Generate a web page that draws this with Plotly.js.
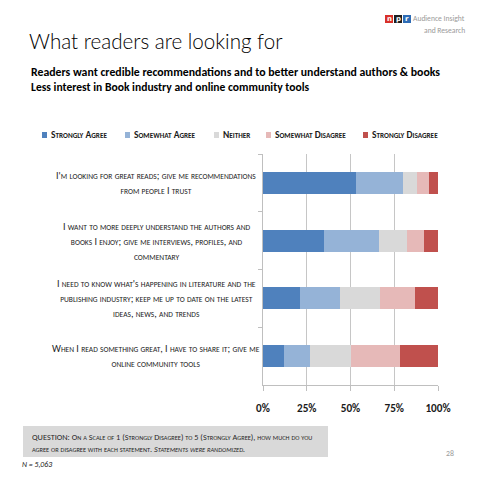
<!DOCTYPE html>
<html>
<head>
<meta charset="utf-8">
<script src="https://cdn.plot.ly/plotly-3.0.1.min.js"></script>
<style>
  html, body { margin: 0; padding: 0; background: #fff; }
  #chart { width: 480px; height: 480px; }
</style>
</head>
<body>
<div id="chart"></div>
<script>
// Survey statements (top to bottom)
const statements = [
  "I'm looking for great reads; give me recommendations<br>from people I trust",
  "I want to more deeply understand the authors and<br>books I enjoy; give me interviews, profiles, and<br>commentary",
  "I need to know what's happening in literature and the<br>publishing industry; keep me up to date on the latest<br>ideas, news, and trends",
  "When I read something great, I have to share it; give me<br>online community tools"
];

// Share of respondents (%) per answer
const stronglyAgree    = [53, 35, 21, 12];
const somewhatAgree    = [27, 31, 23, 15];
const neither          = [8, 16, 23, 23];
const somewhatDisagree = [7, 10, 20, 28];
const stronglyDisagree = [5, 8, 13, 22];

const seriesNames = ["Strongly Agree", "Somewhat Agree", "Neither", "Somewhat Disagree", "Strongly Disagree"];
const seriesValues = [stronglyAgree, somewhatAgree, neither, somewhatDisagree, stronglyDisagree];
const seriesColors = ["#4F81BD", "#95B3D7", "#D9D9D9", "#E6B9B8", "#C0504D"];

const xTickVals = [0, 25, 50, 75, 100];
const xTickText = ["0%", "25%", "50%", "75%", "100%"];

// Plot area in page pixels
const L = 263, R = 438, T = 154, B = 385;
const W = 480, H = 480;
const px = p => (p - L) / (R - L);
const py = p => (B - p) / (B - T);

const FONT = "Carlito, Lato, sans-serif";

// Small-caps emulation: capitals at `big`, lowercase letters as smaller capitals
function smallCaps(str, big, small) {
  const wrap = (txt, size) => `<span style="font-size:${size}px">${txt}</span>`;
  return str.split("<br>").map(line => {
    let out = "", run = "", runSmall = null;
    for (const ch of line) {
      const isSmall = /[a-z]/.test(ch);
      if (runSmall !== null && isSmall !== runSmall) {
        out += wrap(run, runSmall ? small : big);
        run = "";
      }
      run += isSmall ? ch.toUpperCase() : ch;
      runSmall = isSmall;
    }
    if (run) out += wrap(run, runSmall ? small : big);
    return out;
  }).join("<br>");
}

const traces = seriesNames.map((name, i) => ({
  type: "bar",
  orientation: "h",
  name: name,
  y: statements,
  x: seriesValues[i],
  width: 0.38,
  marker: { color: seriesColors[i], line: { width: 0 } },
  showlegend: false,
  hoverinfo: "skip"
}));

const annotations = [];
const shapes = [];

// Statement labels beside each bar
statements.forEach(s => {
  annotations.push({
    xref: "paper", yref: "y", x: px(156), y: s,
    xanchor: "center", yanchor: "middle", align: "center",
    showarrow: false,
    text: smallCaps(s, 10, 7.5),
    font: { family: FONT, size: 11.5, color: "#1c1c1c" }
  });
});

// Legend row
const legendLeft = [42, 125, 214, 266, 363];
seriesNames.forEach((name, i) => {
  shapes.push({
    type: "rect", xref: "paper", yref: "paper",
    x0: px(legendLeft[i]), x1: px(legendLeft[i] + 5),
    y0: py(138), y1: py(132),
    fillcolor: seriesColors[i], line: { width: 0 }
  });
  annotations.push({
    xref: "paper", yref: "paper", x: px(legendLeft[i] + 7), y: py(135),
    xanchor: "left", yanchor: "middle", showarrow: false,
    text: "<b>" + smallCaps(name, 9.5, 7.2) + "</b>",
    font: { family: FONT, size: 9.5, color: "#1a1a1a" }
  });
});

// Header texts
annotations.push({
  xref: "paper", yref: "paper", x: px(29), y: py(72),
  xanchor: "left", yanchor: "middle", showarrow: false,
  text: "<b>Readers want credible recommendations and to better understand authors &amp; books</b>",
  font: { family: FONT, size: 11.8, color: "#000" }
});
annotations.push({
  xref: "paper", yref: "paper", x: px(29), y: py(87),
  xanchor: "left", yanchor: "middle", showarrow: false,
  text: "<b>Less interest in Book industry and online community tools</b>",
  font: { family: FONT, size: 11.6, color: "#000" }
});

// Brand block
const logoLetters = ["n", "p", "r"];
const logoColors = ["#D8312A", "#1E1E1E", "#2E6CB5"];
logoLetters.forEach((ch, i) => {
  const x0 = 385 + i * 9;
  shapes.push({
    type: "rect", xref: "paper", yref: "paper",
    x0: px(x0), x1: px(x0 + 8), y0: py(23), y1: py(15),
    fillcolor: logoColors[i], line: { width: 0 }
  });
  annotations.push({
    xref: "paper", yref: "paper", x: px(x0 + 4), y: py(19),
    xanchor: "center", yanchor: "middle", showarrow: false,
    text: "<b>" + ch + "</b>",
    font: { family: "DejaVu Sans", size: 7, color: "#fff" }
  });
});
annotations.push({
  xref: "paper", yref: "paper", x: px(467), y: py(19),
  xanchor: "right", yanchor: "middle", showarrow: false,
  text: "Audience Insight",
  font: { family: FONT, size: 7.6, color: "#9a9a9a" }
});
annotations.push({
  xref: "paper", yref: "paper", x: px(467), y: py(31),
  xanchor: "right", yanchor: "middle", showarrow: false,
  text: "and Research",
  font: { family: FONT, size: 7.6, color: "#9a9a9a" }
});

// Question note
shapes.push({
  type: "rect", xref: "paper", yref: "paper",
  x0: px(23), x1: px(328), y0: py(457), y1: py(426),
  fillcolor: "#D9D9D9", line: { width: 0 }
});
annotations.push({
  xref: "paper", yref: "paper", x: px(30), y: py(437),
  xanchor: "left", yanchor: "middle", showarrow: false,
  text: smallCaps("QUESTION: On a Scale of 1 (Strongly Disagree) to 5 (Strongly Agree), how much do you", 8.3, 6.3),
  font: { family: FONT, size: 8.3, color: "#262626" }
});
annotations.push({
  xref: "paper", yref: "paper", x: px(30), y: py(449),
  xanchor: "left", yanchor: "middle", showarrow: false,
  text: smallCaps("agree or disagree with each statement. ", 8.3, 6.3) +
        "<i>" + smallCaps("Statements were randomized.", 8.3, 6.3) + "</i>",
  font: { family: FONT, size: 8.3, color: "#262626" }
});
annotations.push({
  xref: "paper", yref: "paper", x: px(20), y: py(464),
  xanchor: "left", yanchor: "middle", showarrow: false,
  text: "<i>N = 5,063</i>",
  font: { family: FONT, size: 7.8, color: "#1a1a1a" }
});
annotations.push({
  xref: "paper", yref: "paper", x: px(450), y: py(453),
  xanchor: "center", yanchor: "middle", showarrow: false,
  text: "28",
  font: { family: FONT, size: 7.8, color: "#9a9a9a" }
});

const layout = {
  width: W, height: H,
  margin: { l: L, r: W - R, t: T, b: H - B, pad: 0 },
  paper_bgcolor: "#fff", plot_bgcolor: "#fff",
  font: { family: FONT, color: "#262626" },
  barmode: "stack",
  bargap: 0,
  showlegend: false,
  title: {
    text: "What readers are looking for",
    xref: "container", yref: "container",
    x: 29 / W, xanchor: "left",
    y: 1 - 42 / H, yanchor: "middle",
    font: { family: "Lato, Carlito, sans-serif", size: 20.6, weight: 300, color: "#000" }
  },
  xaxis: {
    range: [0, 100],
    tickvals: xTickVals, ticktext: xTickText,
    showgrid: true, gridcolor: "#C6C6C6", gridwidth: 1,
    zeroline: false,
    showline: true, linecolor: "#BFBFBF", linewidth: 1,
    ticks: "outside", ticklen: 5, tickcolor: "#BFBFBF",
    ticklabelstandoff: 8,
    tickfont: { family: FONT, size: 11.2, color: "#1a1a1a", weight: "bold" },
    fixedrange: true
  },
  yaxis: {
    type: "category",
    categoryorder: "array", categoryarray: statements,
    autorange: "reversed",
    showticklabels: false,
    showgrid: false, zeroline: false,
    showline: true, linecolor: "#BFBFBF", linewidth: 1,
    ticks: "outside", ticklen: 4, tickcolor: "#BFBFBF",
    tickson: "boundaries",
    fixedrange: true
  },
  shapes: shapes,
  annotations: annotations
};

Plotly.newPlot("chart", traces, layout, { displayModeBar: false, staticPlot: true });
</script>
</body>
</html>
